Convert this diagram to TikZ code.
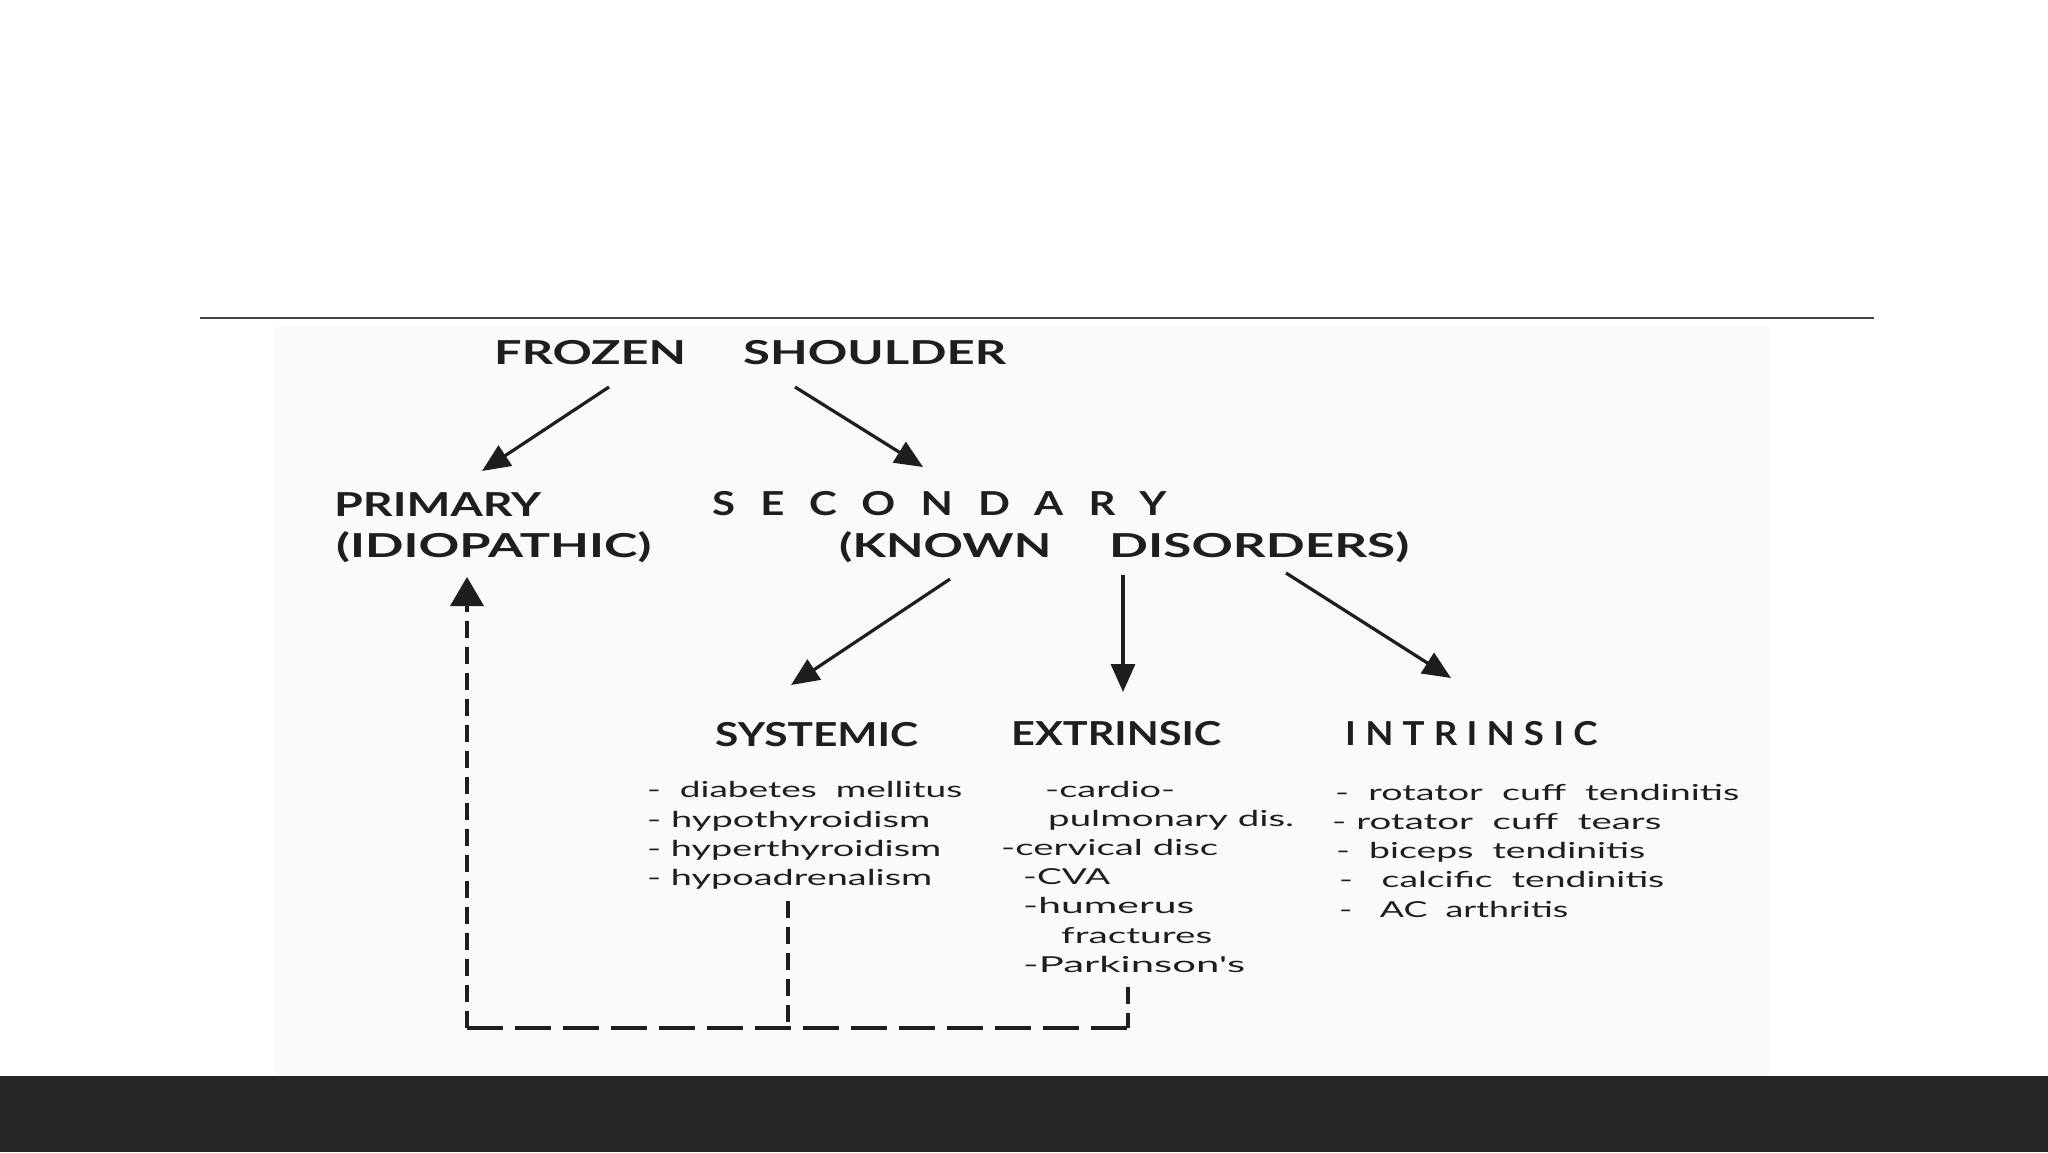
\documentclass[tikz,border=0pt]{standalone}
\usepackage{fontspec}
\usepackage{graphicx}
\usetikzlibrary{arrows.meta}
\setmainfont{Lato}
\newfontfamily\hdfont{Lato}[UprightFont=* Bold]
\newfontfamily\lifont{Lato}
\newcommand{\fitw}[2]{\resizebox{#1pt}{\height}{#2}}
\definecolor{ink}{HTML}{1E1E1E}
\definecolor{band}{HTML}{262626}
\definecolor{paper}{HTML}{F9FAF9}
\definecolor{rule}{HTML}{444444}
\tikzset{
  hd/.style={inner sep=0pt, anchor=base west, text=ink, font=\hdfont\fontsize{33}{36}\selectfont},
  li/.style={inner sep=0pt, anchor=base west, text=ink, font=\lifont\fontsize{22}{26}\selectfont},
  arr/.style={draw=ink, line width=3.2pt, -{Triangle[length=28pt,width=24pt]}},
  dashv/.style={draw=ink, line width=3.6pt, dash pattern=on 17pt off 9pt},
  dashh/.style={draw=ink, line width=3.6pt, dash pattern=on 36pt off 12pt}
}
\begin{document}
\begin{tikzpicture}[x=1pt,y=-1pt]
\useasboundingbox (0,0) rectangle (2048,1152);
\fill[white] (0,0) rectangle (2048,1152);
\fill[paper] (275,327) rectangle (1770,1077);
\fill[band] (0,1076) rectangle (2048,1152);
\draw[rule, line width=2.2pt] (200,318) -- (1874,318);

% headings
\node[hd] (fs) at (494,364) {\fitw{192}{FROZEN}\hspace{57pt}\fitw{263}{SHOULDER}};
\node[hd] (prim) at (334,516) {\fitw{207}{PRIMARY}};
\node[hd] (idio) at (336,557) {\fitw{315}{(IDIOPATHIC)}};
\node[hd] (sec) at (712,515) {\fitw{429}{\addfontfeatures{LetterSpace=60}SECONDARY\hspace{-19.8pt}}};
\node[hd] (known) at (839,557) {\fitw{212}{(KNOWN}\hspace{58pt}\fitw{300}{DISORDERS)}};
\node[hd] (sys) at (715,746) {\fitw{203}{SYSTEMIC}};
\node[hd] (ext) at (1011,745) {\fitw{210}{EXTRINSIC}};
\node[hd] (int) at (1345,745) {\fitw{243}{\addfontfeatures{LetterSpace=25}INTRINSIC\hspace{-8.3pt}}};

% systemic list
\node[li] (s1) at (647,797) {\fitw{315}{-\ \ diabetes\ \ mellitus}};
\node[li] (s2) at (647,827) {\fitw{283}{- hypothyroidism}};
\node[li] (s3) at (647,856) {\fitw{294}{- hyperthyroidism}};
\node[li] (s4) at (647,885) {\fitw{285}{- hypoadrenalism}};

% extrinsic list
\node[li] (e1) at (1045,797) {\fitw{130}{-cardio-}};
\node[li] (e2) at (1048,826) {\fitw{246}{pulmonary dis.}};
\node[li] (e3) at (1001,855) {\fitw{217}{-cervical disc}};
\node[li] (e4) at (1023,884) {\fitw{87}{-CVA}};
\node[li] (e5) at (1023,913) {\fitw{171}{-humerus}};
\node[li] (e6) at (1061,943) {\fitw{151}{fractures}};
\node[li] (e7) at (1023,972) {\fitw{222}{-Parkinson's}};

% intrinsic list
\node[li] (i1) at (1335,800) {\fitw{404}{-\ \ rotator\ \ cuff\ \ tendinitis}};
\node[li] (i2) at (1332,829) {\fitw{329}{-\ rotator\ \ cuff\ \ tears}};
\node[li] (i3) at (1336,858) {\fitw{309}{-\ \ biceps\ \ tendinitis}};
\node[li] (i4) at (1339,887) {\fitw{325}{-\ \ \ calcific\ \ tendinitis}};
\node[li] (i5) at (1339,917) {\fitw{229}{-\ \ \ AC\ \ arthritis}};

% arrow anchors
\coordinate (a1s) at (609,387);  \coordinate (a1e) at (482,471);
\coordinate (a2s) at (795,387);  \coordinate (a2e) at (923,467);
\coordinate (a3s) at (950,579);  \coordinate (a3e) at (791,685);
\coordinate (a4s) at (1123,575); \coordinate (a4e) at (1123,692);
\coordinate (a5s) at (1286,573); \coordinate (a5e) at (1451,678);
\draw[arr] (a1s) -- (a1e);
\draw[arr] (a2s) -- (a2e);
\draw[arr] (a3s) -- (a3e);
\draw[arr] (a4s) -- (a4e);
\draw[arr] (a5s) -- (a5e);

% dashed feedback
\coordinate (c0) at (467,1028);
\coordinate (c1) at (788,1028);
\coordinate (c2) at (1128,1028);
\coordinate (sysb) at (788,901);
\coordinate (extb) at (1128,987);
\coordinate (prb) at (467,604);
\draw[dashh] (c0) -- (c2);
\draw[dashv] (sysb) -- (c1);
\draw[dashv] (extb) -- (c2);
\draw[dashv] (c0) -- (prb);
\fill[ink] (467,577) -- (450,606) -- (484,606) -- cycle;
\end{tikzpicture}
\end{document}
